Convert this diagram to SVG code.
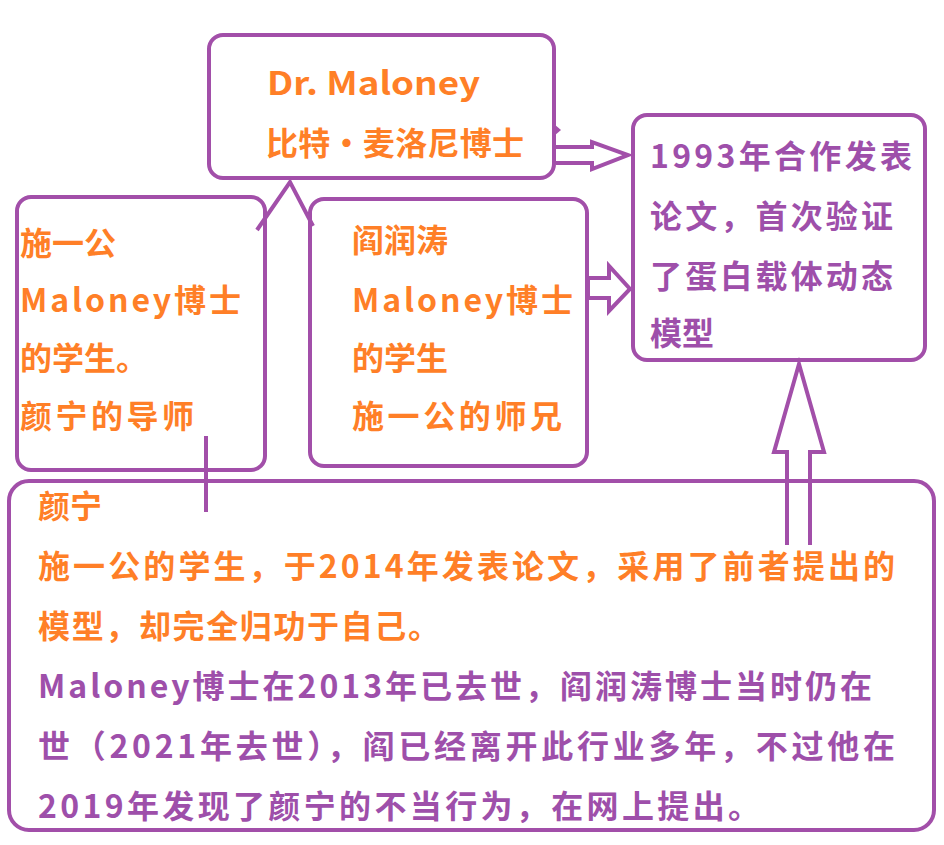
<svg xmlns="http://www.w3.org/2000/svg" width="944" height="845" viewBox="0 0 944 845">
<style>
.b{fill:#fff;stroke:#A24FA9;stroke-width:4}
.l{fill:none;stroke:#A24FA9;stroke-width:4;stroke-linejoin:miter}
text{font-family:"Noto Sans CJK SC","Noto Sans",sans-serif;font-weight:bold;font-size:32px}
.o{fill:#FF7F27}.p{fill:#9E4FAA}
</style>
<rect width="944" height="845" fill="#fff"/>
<g id="top"><rect class="b" x="209" y="35" width="345" height="143" rx="14"/>
<text class="o" x="267" y="95" textLength="213" lengthAdjust="spacingAndGlyphs">Dr. Maloney</text><text class="o" x="266" y="155" textLength="258">比特•麦洛尼博士</text></g>
<g id="left"><rect class="b" x="17" y="197" width="248" height="273" rx="14"/>
<text class="o"><tspan x="20" y="255">施一公</tspan><tspan x="20" y="312" textLength="221">Maloney博士</tspan><tspan x="20" y="370">的学生。</tspan><tspan x="20" y="428" textLength="174">颜宁的导师</tspan></text></g>
<g id="mid"><rect class="b" x="310" y="199" width="277" height="267" rx="14"/>
<text class="o"><tspan x="352" y="252">阎润涛</tspan><tspan x="352" y="312" textLength="221">Maloney博士</tspan><tspan x="352" y="370">的学生</tspan><tspan x="352" y="428" textLength="210">施一公的师兄</tspan></text></g>
<g id="right"><rect class="b" x="633" y="115" width="292" height="245" rx="14"/>
<text class="p"><tspan x="650" y="168" textLength="262">1993年合作发表</tspan><tspan x="650" y="228" textLength="243">论文，首次验证</tspan><tspan x="650" y="288" textLength="243">了蛋白载体动态</tspan><tspan x="650" y="345">模型</tspan></text></g>
<g id="bottom"><rect class="b" x="9" y="481" width="925" height="349" rx="20"/>
<text class="o"><tspan x="38" y="518">颜宁</tspan><tspan x="38" y="578" textLength="857">施一公的学生，于2014年发表论文，采用了前者提出的</tspan><tspan x="38" y="638" textLength="402">模型，却完全归功于自己。</tspan></text>
<text class="p"><tspan x="38" y="698" textLength="834">Maloney博士在2013年已去世，阎润涛博士当时仍在</tspan><tspan x="38" y="758" textLength="857">世（2021年去世），阎已经离开此行业多年，不过他在</tspan><tspan x="38" y="818" textLength="722">2019年发现了颜宁的不当行为，在网上提出。</tspan></text></g>
<g id="connectors">
<path class="l" d="M556,147 H592 V142 L628,155 L592,169 V163 H556"/>
<path class="l" d="M588,278 H609 V266 L630,289 L609,311 V298 H588 Z"/>
<path class="l" d="M787,545 V452 H774 L799,364 L824,452 H810 V545"/>
<path class="l" d="M257,230 L290,182 L313,226"/>
<path class="l" d="M206,436 V512"/>
<path fill="#A24FA9" d="M554,124 L561,130 L554,136 Z"/>
</g>
</svg>
